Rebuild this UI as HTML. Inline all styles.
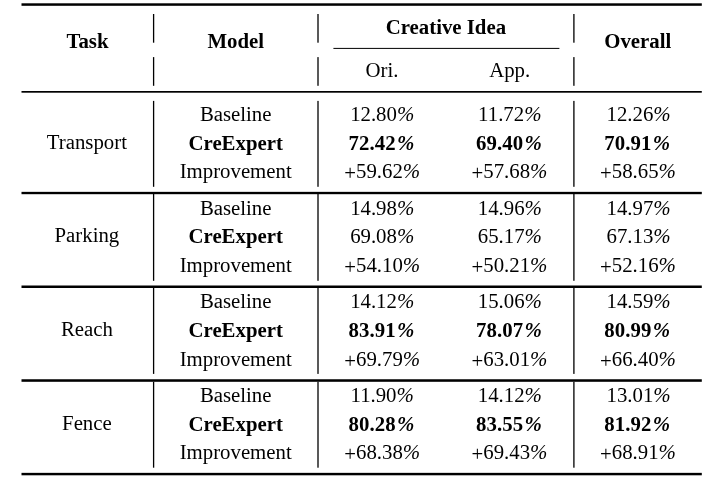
<!DOCTYPE html>
<html><head><meta charset="utf-8"><title>Table</title>
<style>
html,body{margin:0;padding:0;background:#fff;}
body{width:725px;height:496px;position:relative;overflow:hidden;font-family:"Liberation Serif",serif;font-size:20.8px;color:#000;}
#t{will-change:transform;}
#t div{position:absolute;text-align:center;white-space:nowrap;line-height:28px;height:28px;}
#t div.b{font-weight:bold;}
#t i{margin-left:0;}
#t span.p{position:relative;top:2px;}
#t div.b i{margin-left:1.2px;}
#t div.n{letter-spacing:0.1px;}
svg{position:absolute;left:0;top:0;}
</style></head><body>
<svg width="725" height="496" viewBox="0 0 725 496" fill="#000" shape-rendering="auto">
<rect x="21.5" y="3.3" width="680.30" height="2.50"/>
<rect x="21.5" y="91.0" width="680.30" height="1.70"/>
<rect x="21.5" y="191.85" width="680.30" height="2.35"/>
<rect x="21.5" y="285.5" width="680.30" height="2.50"/>
<rect x="21.5" y="379.25" width="680.30" height="2.55"/>
<rect x="21.5" y="472.85" width="680.30" height="2.45"/>
<rect x="333.4" y="47.9" width="226.00" height="1.00"/>
<rect x="152.95" y="14.0" width="1.3" height="28.70"/>
<rect x="152.95" y="57.1" width="1.3" height="28.70"/>
<rect x="152.95" y="100.9" width="1.3" height="85.90"/>
<rect x="152.95" y="194.0" width="1.3" height="86.80"/>
<rect x="152.95" y="288.0" width="1.3" height="85.90"/>
<rect x="152.95" y="381.8" width="1.3" height="85.90"/>
<rect x="317.35" y="14.0" width="1.3" height="28.70"/>
<rect x="317.35" y="57.1" width="1.3" height="28.70"/>
<rect x="317.35" y="100.9" width="1.3" height="85.90"/>
<rect x="317.35" y="194.0" width="1.3" height="86.80"/>
<rect x="317.35" y="288.0" width="1.3" height="85.90"/>
<rect x="317.35" y="381.8" width="1.3" height="85.90"/>
<rect x="573.25" y="14.0" width="1.3" height="28.70"/>
<rect x="573.25" y="57.1" width="1.3" height="28.70"/>
<rect x="573.25" y="100.9" width="1.3" height="85.90"/>
<rect x="573.25" y="194.0" width="1.3" height="86.80"/>
<rect x="573.25" y="288.0" width="1.3" height="85.90"/>
<rect x="573.25" y="381.8" width="1.3" height="85.90"/>
</svg>
<div id="t">
<div class="b" style="left:-12.50px;top:27.00px;width:200px">Task</div>
<div class="b" style="left:135.70px;top:27.00px;width:200px">Model</div>
<div class="b" style="left:315.88px;top:13.00px;width:260px">Creative Idea</div>
<div class="b" style="left:537.80px;top:27.00px;width:200px">Overall</div>
<div style="left:282.05px;top:56.00px;width:200px">Ori.</div>
<div style="left:409.70px;top:56.00px;width:200px">App.</div>
<div style="left:-13.10px;top:128.00px;width:200px">Transport</div>
<div style="left:135.70px;top:100.00px;width:200px">Baseline</div>
<div style="left:282.20px;top:100.00px;width:200px">12.80<i>%</i></div>
<div style="left:409.80px;top:100.00px;width:200px">11.72<i>%</i></div>
<div style="left:538.60px;top:100.00px;width:200px">12.26<i>%</i></div>
<div class="b" style="left:135.70px;top:129.00px;width:200px">CreExpert</div>
<div class="b n" style="left:281.40px;top:129.00px;width:200px">72.42<i>%</i></div>
<div class="b n" style="left:408.90px;top:129.00px;width:200px">69.40<i>%</i></div>
<div class="b n" style="left:537.30px;top:129.00px;width:200px">70.91<i>%</i></div>
<div style="left:135.70px;top:157.00px;width:200px">Improvement</div>
<div style="left:282.20px;top:157.00px;width:200px"><span class="p">+</span>59.62<i>%</i></div>
<div style="left:409.50px;top:157.00px;width:200px"><span class="p">+</span>57.68<i>%</i></div>
<div style="left:538.00px;top:157.00px;width:200px"><span class="p">+</span>58.65<i>%</i></div>
<div style="left:-13.10px;top:221.00px;width:200px">Parking</div>
<div style="left:135.70px;top:194.00px;width:200px">Baseline</div>
<div style="left:282.20px;top:194.00px;width:200px">14.98<i>%</i></div>
<div style="left:409.80px;top:194.00px;width:200px">14.96<i>%</i></div>
<div style="left:538.60px;top:194.00px;width:200px">14.97<i>%</i></div>
<div class="b" style="left:135.70px;top:222.00px;width:200px">CreExpert</div>
<div style="left:282.20px;top:222.00px;width:200px">69.08<i>%</i></div>
<div style="left:409.80px;top:222.00px;width:200px">65.17<i>%</i></div>
<div style="left:538.60px;top:222.00px;width:200px">67.13<i>%</i></div>
<div style="left:135.70px;top:251.00px;width:200px">Improvement</div>
<div style="left:282.20px;top:251.00px;width:200px"><span class="p">+</span>54.10<i>%</i></div>
<div style="left:409.50px;top:251.00px;width:200px"><span class="p">+</span>50.21<i>%</i></div>
<div style="left:538.00px;top:251.00px;width:200px"><span class="p">+</span>52.16<i>%</i></div>
<div style="left:-13.10px;top:315.00px;width:200px">Reach</div>
<div style="left:135.70px;top:287.00px;width:200px">Baseline</div>
<div style="left:282.20px;top:287.00px;width:200px">14.12<i>%</i></div>
<div style="left:409.80px;top:287.00px;width:200px">15.06<i>%</i></div>
<div style="left:538.60px;top:287.00px;width:200px">14.59<i>%</i></div>
<div class="b" style="left:135.70px;top:316.00px;width:200px">CreExpert</div>
<div class="b n" style="left:281.40px;top:316.00px;width:200px">83.91<i>%</i></div>
<div class="b n" style="left:408.90px;top:316.00px;width:200px">78.07<i>%</i></div>
<div class="b n" style="left:537.30px;top:316.00px;width:200px">80.99<i>%</i></div>
<div style="left:135.70px;top:345.00px;width:200px">Improvement</div>
<div style="left:282.20px;top:345.00px;width:200px"><span class="p">+</span>69.79<i>%</i></div>
<div style="left:409.50px;top:345.00px;width:200px"><span class="p">+</span>63.01<i>%</i></div>
<div style="left:538.00px;top:345.00px;width:200px"><span class="p">+</span>66.40<i>%</i></div>
<div style="left:-13.10px;top:409.00px;width:200px">Fence</div>
<div style="left:135.70px;top:381.00px;width:200px">Baseline</div>
<div style="left:282.20px;top:381.00px;width:200px">11.90<i>%</i></div>
<div style="left:409.80px;top:381.00px;width:200px">14.12<i>%</i></div>
<div style="left:538.60px;top:381.00px;width:200px">13.01<i>%</i></div>
<div class="b" style="left:135.70px;top:410.00px;width:200px">CreExpert</div>
<div class="b n" style="left:281.40px;top:410.00px;width:200px">80.28<i>%</i></div>
<div class="b n" style="left:408.90px;top:410.00px;width:200px">83.55<i>%</i></div>
<div class="b n" style="left:537.30px;top:410.00px;width:200px">81.92<i>%</i></div>
<div style="left:135.70px;top:438.00px;width:200px">Improvement</div>
<div style="left:282.20px;top:438.00px;width:200px"><span class="p">+</span>68.38<i>%</i></div>
<div style="left:409.50px;top:438.00px;width:200px"><span class="p">+</span>69.43<i>%</i></div>
<div style="left:538.00px;top:438.00px;width:200px"><span class="p">+</span>68.91<i>%</i></div>
</div>
</body></html>
